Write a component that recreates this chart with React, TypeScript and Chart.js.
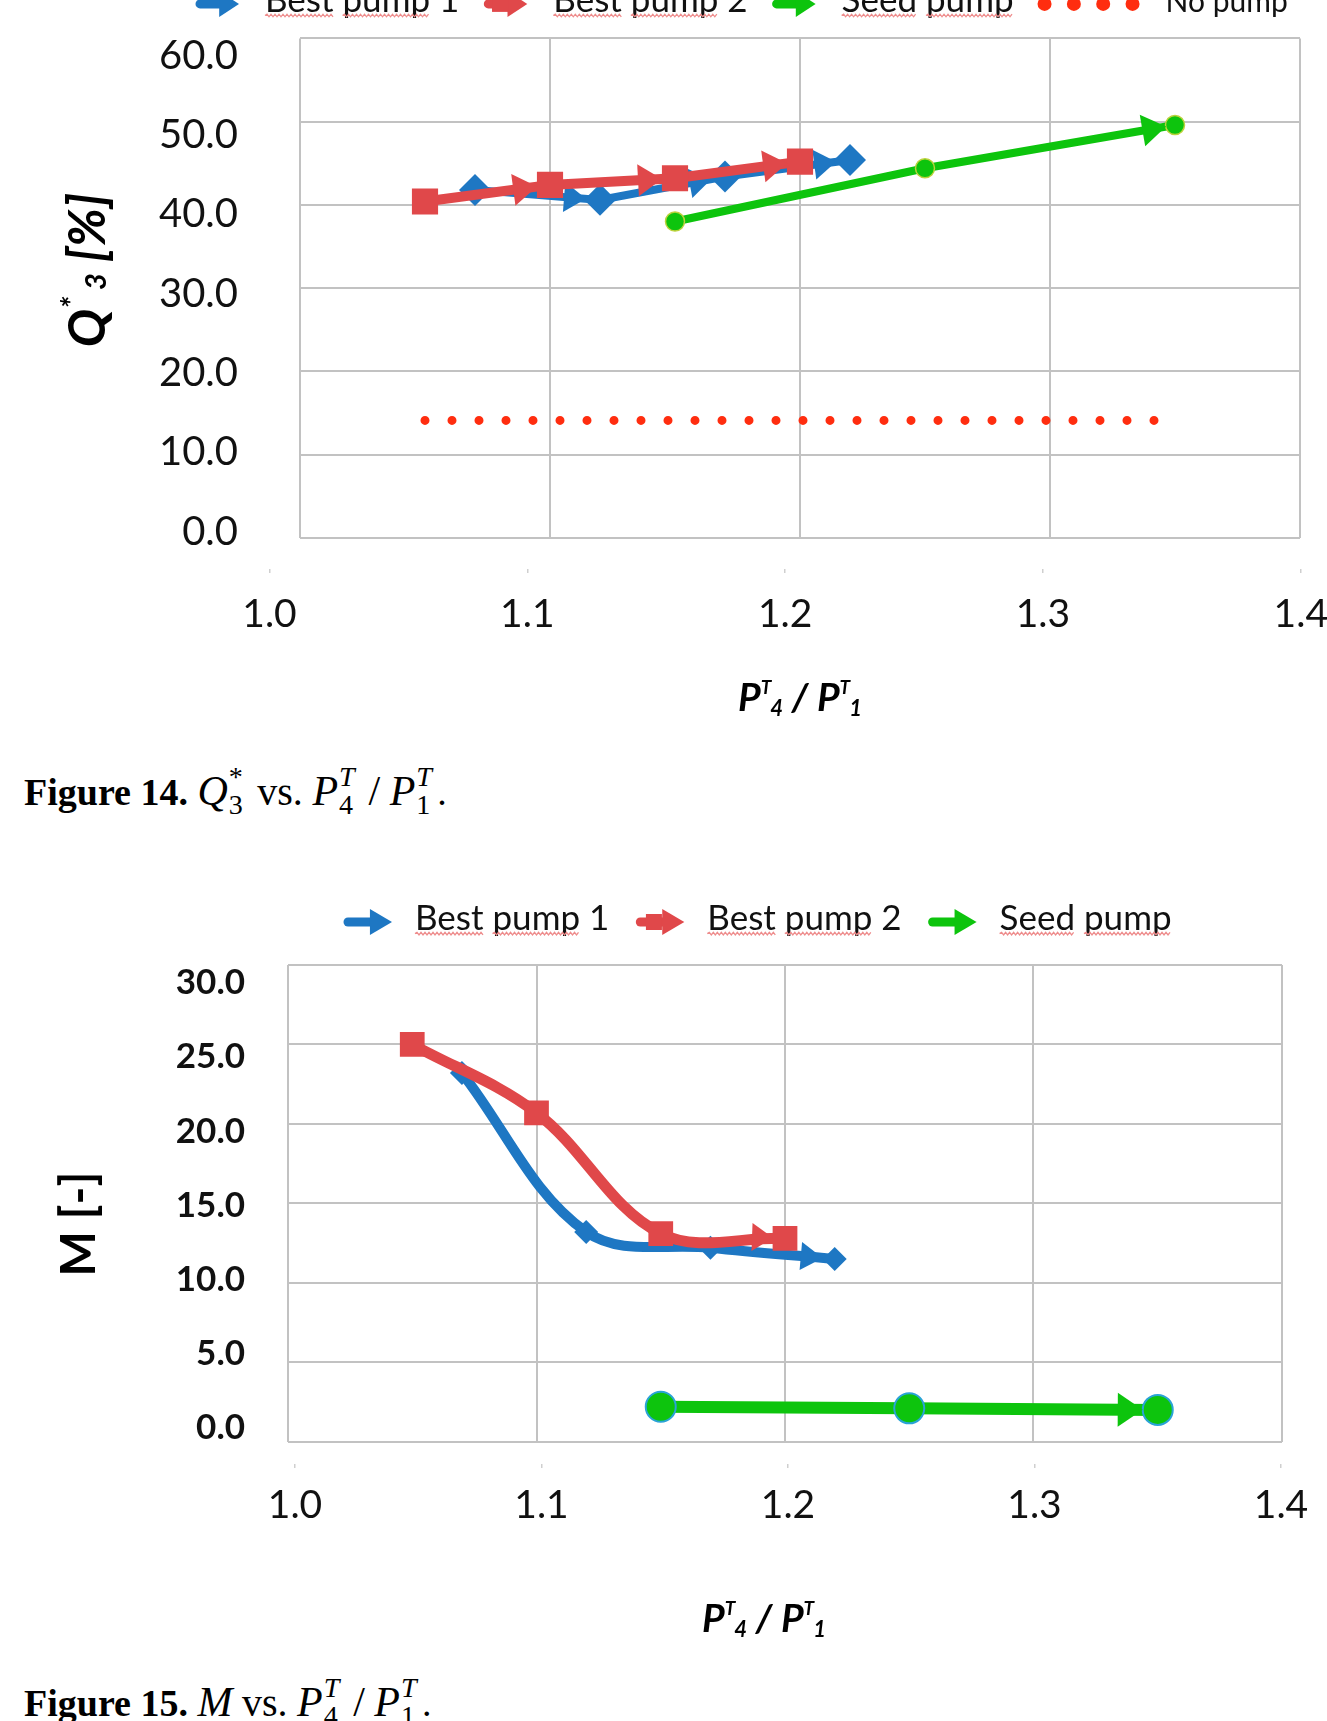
import React, { useEffect, useRef } from 'react';
import { Chart, registerables } from 'chart.js';

Chart.register(...registerables);

// ---------------- Figure 14 data (Q*3 [%] vs P4/P1) ----------------
const fig14Best1Ratio = [1.07, 1.12, 1.17, 1.22];
const fig14Best1Q3 = [41.8, 40.6, 43.4, 45.4];
const fig14Best2Ratio = [1.05, 1.1, 1.15, 1.2];
const fig14Best2Q3 = [40.4, 42.4, 43.2, 45.2];
const fig14SeedRatio = [1.15, 1.25, 1.35];
const fig14SeedQ3 = [38.0, 44.4, 49.6];
const fig14NoPumpRatio = [1.05, 1.35];
const fig14NoPumpQ3 = [14.1, 14.1];
const fig14YTickValues = [0, 10, 20, 30, 40, 50, 60];

// ---------------- Figure 15 data (M [-] vs P4/P1) ----------------
const fig15Best1Ratio = [1.07, 1.12, 1.17, 1.22];
const fig15Best1M = [23.2, 13.2, 12.2, 11.5];
const fig15Best2Ratio = [1.05, 1.1, 1.15, 1.2];
const fig15Best2M = [25.0, 20.7, 13.1, 12.8];
const fig15SeedRatio = [1.15, 1.25, 1.35];
const fig15SeedM = [2.2, 2.1, 2.0];
const fig15YTickValues = [0, 5, 10, 15, 20, 25, 30];

const xTickValues = [1.0, 1.1, 1.2, 1.3, 1.4];
const seriesLabels = ['Best pump 1', 'Best pump 2', 'Seed pump', 'No pump'];

// ---------------- styling ----------------
const BLUE = '#1E77C3';
const RED = '#E0484A';
const GREEN = '#0DC40D';
const DOT_RED = '#FF2D0F';
const GRID = '#C2C2C2';
const TICK_MARK = '#CFCFCF';
const FAMILY = 'Lato, "Noto Sans", sans-serif';

const pts = (xs: number[], ys: number[]) => xs.map((x, i) => ({ x, y: ys[i] }));
const font = (size: number, weight = 'normal') => ({ family: FAMILY, size, weight, lineHeight: 1 });

// ---------------- plugins ----------------
function drawArrowHead(ctx: CanvasRenderingContext2D, fx: number, fy: number, tx: number, ty: number, a: any, color: string) {
  const dx = tx - fx;
  const dy = ty - fy;
  const d = Math.hypot(dx, dy) || 1;
  const ux = dx / d;
  const uy = dy / d;
  const tipX = tx - ux * a.offset;
  const tipY = ty - uy * a.offset;
  const bx = tipX - ux * a.len;
  const by = tipY - uy * a.len;
  ctx.fillStyle = color;
  ctx.beginPath();
  ctx.moveTo(tipX, tipY);
  ctx.lineTo(bx - uy * a.half, by + ux * a.half);
  ctx.lineTo(bx + uy * a.half, by - ux * a.half);
  ctx.closePath();
  ctx.fill();
}

const arrowPlugin = {
  id: 'segmentArrows',
  afterDatasetDraw(chart: any, args: any) {
    const ds = chart.data.datasets[args.index];
    if (!ds.arrow) return;
    const els = args.meta.data;
    const ctx = chart.ctx;
    ctx.save();
    for (let j = 1; j < els.length; j++) {
      if (ds.arrow.mode === 'last' && j !== els.length - 1) continue;
      const p = els[j];
      const prev = els[j - 1];
      let fx = prev.x;
      let fy = prev.y;
      if (ds.tension && p.cp1x != null && Math.hypot(p.x - p.cp1x, p.y - p.cp1y) > 1) {
        fx = p.cp1x;
        fy = p.cp1y;
      }
      drawArrowHead(ctx, fx, fy, p.x, p.y, ds.arrow, ds.borderColor);
    }
    ctx.restore();
  },
};

function drawLegendIcon(ctx: CanvasRenderingContext2D, kind: string, color: string, x: number, y: number, w: number) {
  ctx.save();
  ctx.fillStyle = color;
  ctx.strokeStyle = color;
  if (kind === 'dots') {
    const r = 7;
    for (let i = 0; i < 4; i++) {
      ctx.beginPath();
      ctx.arc(x + r + (i * (w - 2 * r)) / 3, y, r, 0, Math.PI * 2);
      ctx.fill();
    }
  } else {
    const len = w * 0.45;
    const half = 13;
    ctx.lineWidth = 9;
    ctx.lineCap = 'round';
    ctx.beginPath();
    ctx.moveTo(x + 5, y);
    ctx.lineTo(x + w - len + 2, y);
    ctx.stroke();
    ctx.beginPath();
    ctx.moveTo(x + w, y);
    ctx.lineTo(x + w - len, y - half);
    ctx.lineTo(x + w - len, y + half);
    ctx.closePath();
    ctx.fill();
    if (kind === 'arrowSquare') ctx.fillRect(x + w * 0.38 - 8, y - 8, 16, 16);
  }
  ctx.restore();
}

function drawSquiggle(ctx: CanvasRenderingContext2D, x0: number, x1: number, y: number) {
  ctx.save();
  ctx.strokeStyle = '#EE8C8C';
  ctx.lineWidth = 1.3;
  ctx.beginPath();
  let up = true;
  ctx.moveTo(x0, y);
  for (let x = x0 + 2; x <= x1; x += 2) {
    ctx.lineTo(x, y + (up ? -1.3 : 1.3));
    up = !up;
  }
  ctx.stroke();
  ctx.restore();
}

function makeLegendPlugin(cfg: any) {
  return {
    id: 'figLegend',
    afterDraw(chart: any) {
      const ctx: CanvasRenderingContext2D = chart.ctx;
      ctx.save();
      ctx.textBaseline = 'alphabetic';
      ctx.textAlign = 'left';
      const iconY = cfg.baseline - cfg.fontSize * 0.36 + cfg.iconDrop;
      let x = cfg.startX;
      chart.data.datasets.forEach((ds: any) => {
        const w = ds.legendIconWidth || cfg.iconWidth;
        drawLegendIcon(ctx, ds.legendIcon, ds.borderColor, x, iconY, w);
        x += w + cfg.iconGap;
        ctx.font = `normal ${ds.legendFontSize || cfg.fontSize}px ${FAMILY}`;
        ctx.fillStyle = '#111';
        ctx.fillText(ds.label, x, cfg.baseline);
        if (ds.legendSquiggle) {
          let wx = x;
          ds.label.split(' ').forEach((word: string) => {
            const ww = ctx.measureText(word).width;
            if (!/^\d+$/.test(word)) drawSquiggle(ctx, wx, wx + ww, cfg.baseline + 4);
            wx += ww + ctx.measureText(' ').width;
          });
        }
        x += ctx.measureText(ds.label).width + cfg.itemGap;
      });
      ctx.restore();
    },
  };
}

function drawRich(ctx: CanvasRenderingContext2D, t: any) {
  ctx.save();
  ctx.translate(t.x, t.y);
  if (t.rotate) ctx.rotate(t.rotate);
  ctx.fillStyle = '#000';
  ctx.textBaseline = 'alphabetic';
  ctx.textAlign = 'left';
  const fontOf = (r: any) => `${t.style} ${t.weight} ${r.size}px ${FAMILY}`;
  let total = 0;
  const widths = t.runs.map((r: any) => {
    ctx.font = fontOf(r);
    const w = ctx.measureText(r.text).width + (r.kern || 0);
    total += w;
    return w;
  });
  let cx = -total / 2;
  t.runs.forEach((r: any, i: number) => {
    ctx.font = fontOf(r);
    ctx.fillText(r.text, cx, r.dy || 0);
    cx += widths[i];
  });
  ctx.restore();
}

function makeTitlePlugin(titles: any[]) {
  return {
    id: 'figTitles',
    afterDraw(chart: any) {
      titles.forEach((t) => drawRich(chart.ctx, t));
    },
  };
}

const xTitleRuns = [
  { text: 'P', size: 39 },
  { text: 'T', size: 19, dy: -17, kern: -1 },
  { text: '4', size: 22, dy: 5 },
  { text: ' / ', size: 39 },
  { text: 'P', size: 39 },
  { text: 'T', size: 19, dy: -17, kern: -1 },
  { text: '1', size: 22, dy: 5 },
];

// ---------------- scale helpers ----------------
function gridScale(min: number, max: number, step: number, fitSize: number, horizontal: boolean) {
  return {
    type: 'linear',
    position: horizontal ? 'bottom' : 'left',
    min,
    max,
    ticks: { display: false, stepSize: step },
    grid: { color: GRID, lineWidth: 2, drawTicks: false },
    border: { display: false },
    afterFit: (s: any) => {
      if (horizontal) s.height = fitSize;
      else s.width = fitSize;
      s.paddingLeft = 0;
      s.paddingRight = 0;
      s.paddingTop = 0;
      s.paddingBottom = 0;
    },
  };
}

function labelScale(min: number, max: number, values: number[], fontSpec: any, padding: number, fitSize: number, horizontal: boolean) {
  return {
    type: 'linear',
    position: horizontal ? 'bottom' : 'left',
    min,
    max,
    afterBuildTicks: (s: any) => {
      s.ticks = values.map((v) => ({ value: v }));
    },
    ticks: {
      font: fontSpec,
      color: '#111',
      padding,
      autoSkip: false,
      maxRotation: 0,
      minRotation: 0,
      callback: (v: any) => Number(v).toFixed(1),
    },
    grid: horizontal
      ? { display: true, drawOnChartArea: false, drawTicks: true, tickLength: 4, color: TICK_MARK, lineWidth: 1.5 }
      : { display: false, drawTicks: false },
    border: { display: false },
    afterFit: (s: any) => {
      if (horizontal) s.height = fitSize;
      else s.width = fitSize;
      s.paddingLeft = 0;
      s.paddingRight = 0;
      s.paddingTop = 0;
      s.paddingBottom = 0;
    },
  };
}

// ---------------- chart configs ----------------
function makeFig14Config() {
  return {
    type: 'line',
    data: {
      datasets: [
        {
          label: seriesLabels[0], data: pts(fig14Best1Ratio, fig14Best1Q3), xAxisID: 'x', yAxisID: 'y',
          borderColor: BLUE, backgroundColor: BLUE, borderWidth: 8, tension: 0,
          pointStyle: 'rectRot', pointRadius: 16, pointBorderWidth: 0, order: 2,
          arrow: { mode: 'each', len: 22, half: 15, offset: 14 }, legendIcon: 'arrow', legendSquiggle: true,
        },
        {
          label: seriesLabels[1], data: pts(fig14Best2Ratio, fig14Best2Q3), xAxisID: 'x', yAxisID: 'y',
          borderColor: RED, backgroundColor: RED, borderWidth: 10, tension: 0,
          pointStyle: 'rect', pointRadius: 18.5, pointBorderWidth: 0, order: 1,
          arrow: { mode: 'each', len: 24, half: 16, offset: 13 }, legendIcon: 'arrowSquare', legendSquiggle: true,
        },
        {
          label: seriesLabels[2], data: pts(fig14SeedRatio, fig14SeedQ3), xAxisID: 'x', yAxisID: 'y',
          borderColor: GREEN, backgroundColor: GREEN, borderWidth: 8, tension: 0,
          pointStyle: 'circle', pointRadius: 9.5, pointBorderColor: '#BCD23C', pointBorderWidth: 1.5, order: 3,
          arrow: { mode: 'last', len: 24, half: 16, offset: 9 }, legendIcon: 'arrow', legendSquiggle: true,
        },
        {
          label: seriesLabels[3], data: pts(fig14NoPumpRatio, fig14NoPumpQ3), xAxisID: 'x', yAxisID: 'y',
          borderColor: DOT_RED, backgroundColor: DOT_RED, borderWidth: 9, borderDash: [0, 27],
          borderCapStyle: 'round', pointRadius: 0, order: 4,
          legendIcon: 'dots', legendIconWidth: 102, legendSquiggle: false, legendFontSize: 30,
        },
      ],
    },
    options: {
      responsive: false,
      animation: false,
      devicePixelRatio: 1,
      events: [],
      layout: { padding: { top: 78.4, right: 27, bottom: 0, left: 0 } },
      plugins: { legend: { display: false }, tooltip: { enabled: false } },
      scales: {
        x: gridScale(1.0, 1.4, 0.1, 31.2, true),
        x2: labelScale(1.01183, 1.39969, xTickValues, font(39), 22, 151, true),
        y: gridScale(0, 60, 10, 0, false),
        y2: labelScale(-0.769, 62.19, fig14YTickValues, font(40), 62, 300, false),
      },
    },
    plugins: [
      arrowPlugin,
      makeLegendPlugin({ startX: 195, baseline: 51.5, fontSize: 35, iconWidth: 44, iconGap: 26, itemGap: 24, iconDrop: 5 }),
      makeTitlePlugin([
        {
          x: 105, y: 310, rotate: -Math.PI / 2, style: 'italic', weight: 'bold',
          runs: [
            { text: 'Q', size: 51 },
            { text: '*', size: 31, dy: -22 },
            { text: ' 3', size: 29, dy: 1 },
            { text: ' [%]', size: 51 },
          ],
        },
        { x: 800, y: 751, rotate: 0, style: 'italic', weight: 'bold', runs: xTitleRuns },
      ]),
    ],
  };
}

function makeFig15Config() {
  return {
    type: 'line',
    data: {
      datasets: [
        {
          label: seriesLabels[0], data: pts(fig15Best1Ratio, fig15Best1M), xAxisID: 'x', yAxisID: 'y',
          borderColor: BLUE, backgroundColor: BLUE, borderWidth: 10, tension: 0.36,
          pointStyle: 'rectRot', pointRadius: 12, pointBorderWidth: 0, order: 2,
          arrow: { mode: 'last', len: 22, half: 14, offset: 12 }, legendIcon: 'arrow', legendSquiggle: true,
        },
        {
          label: seriesLabels[1], data: pts(fig15Best2Ratio, fig15Best2M), xAxisID: 'x', yAxisID: 'y',
          borderColor: RED, backgroundColor: RED, borderWidth: 11, tension: 0.36,
          pointStyle: 'rect', pointRadius: 17.5, pointBorderWidth: 0, order: 1,
          arrow: { mode: 'last', len: 21, half: 14, offset: 12 }, legendIcon: 'arrowSquare', legendSquiggle: true,
        },
        {
          label: seriesLabels[2], data: pts(fig15SeedRatio, fig15SeedM), xAxisID: 'x', yAxisID: 'y',
          borderColor: GREEN, backgroundColor: GREEN, borderWidth: 12, tension: 0,
          pointStyle: 'circle', pointRadius: 15, pointBorderColor: '#2AA3D6', pointBorderWidth: 2, order: 3,
          arrow: { mode: 'last', len: 25, half: 17, offset: 15 }, legendIcon: 'arrow', legendSquiggle: true,
        },
      ],
    },
    options: {
      responsive: false,
      animation: false,
      devicePixelRatio: 1,
      events: [],
      layout: { padding: { top: 105, right: 45, bottom: 0, left: 0 } },
      plugins: { legend: { display: false }, tooltip: { enabled: false } },
      scales: {
        x: gridScale(1.0, 1.4, 0.1, 22.3, true),
        x2: labelScale(0.99716, 1.40041, xTickValues, font(39), 18, 196, true),
        y: gridScale(0, 30, 5, 0, false),
        y2: labelScale(-0.924, 31.21, fig15YTickValues, font(35, 'bold'), 43, 288, false),
      },
    },
    plugins: [
      arrowPlugin,
      makeLegendPlugin({ startX: 343, baseline: 69.6, fontSize: 35, iconWidth: 49, iconGap: 23, itemGap: 26, iconDrop: 5 }),
      makeTitlePlugin([
        {
          x: 95, y: 364, rotate: -Math.PI / 2, style: 'normal', weight: 'bold',
          runs: [{ text: 'M [-]', size: 48 }],
        },
        { x: 764, y: 772, rotate: 0, style: 'italic', weight: 'bold', runs: xTitleRuns },
      ]),
    ],
  };
}

// ---------------- components ----------------
function ChartCanvas({ makeConfig, top, height }: { makeConfig: () => any; top: number; height: number }) {
  const ref = useRef<HTMLCanvasElement>(null);
  useEffect(() => {
    const chart = new Chart(ref.current as HTMLCanvasElement, makeConfig());
    return () => chart.destroy();
  }, []);
  return (
    <canvas
      ref={ref}
      width={1327}
      height={height}
      style={{ position: 'absolute', left: 0, top, width: 1327, height, display: 'block' }}
    />
  );
}

const CAP_SIZE = 38;
const MATH_SIZE = 42;
const capBase: React.CSSProperties = {
  position: 'absolute',
  left: 24,
  fontFamily: '"Liberation Serif", "Times New Roman", serif',
  fontSize: CAP_SIZE,
  lineHeight: `${CAP_SIZE}px`,
  whiteSpace: 'nowrap',
  color: '#000',
};

function MathVar({ children }: { children: React.ReactNode }) {
  return <i style={{ fontSize: MATH_SIZE }}>{children}</i>;
}

function SupSub({ sup, sub, width }: { sup: React.ReactNode; sub: React.ReactNode; width: number }) {
  const s = CAP_SIZE * 0.74;
  const inner = 0.8375 * s;
  const child: React.CSSProperties = { position: 'absolute', left: 1, fontSize: s, lineHeight: `${s}px` };
  return (
    <span style={{ position: 'relative', display: 'inline-block', width, height: 0 }}>
      <span style={{ ...child, top: -0.48 * CAP_SIZE - inner }}>{sup}</span>
      <span style={{ ...child, top: 0.26 * CAP_SIZE - inner }}>{sub}</span>
    </span>
  );
}

export default function App() {
  return (
    <div
      style={{
        position: 'absolute',
        left: 0,
        top: 0,
        width: 1327,
        height: 1721,
        overflow: 'hidden',
        background: '#fff',
      }}
    >
      <ChartCanvas makeConfig={makeFig14Config} top={-40} height={760} />
      <div style={{ ...capBase, top: 772 }}>
        <b>Figure 14.</b> <MathVar>Q</MathVar>
        <SupSub sup="*" sub="3" width={20} />{' '}
        <span style={{ fontSize: 40 }}>vs.</span> <MathVar>P</MathVar>
        <SupSub sup={<i>T</i>} sub="4" width={21} />{' '}
        <span style={{ fontSize: 42 }}>/</span> <MathVar>P</MathVar>
        <SupSub sup={<i>T</i>} sub="1" width={22} />.
      </div>
      <ChartCanvas makeConfig={makeFig15Config} top={860} height={800} />
      <div style={{ ...capBase, top: 1683 }}>
        <b>Figure 15.</b> <MathVar>M</MathVar>{' '}
        <span style={{ fontSize: 40 }}>vs.</span> <MathVar>P</MathVar>
        <SupSub sup={<i>T</i>} sub="4" width={21} />{' '}
        <span style={{ fontSize: 42 }}>/</span> <MathVar>P</MathVar>
        <SupSub sup={<i>T</i>} sub="1" width={22} />.
      </div>
    </div>
  );
}
